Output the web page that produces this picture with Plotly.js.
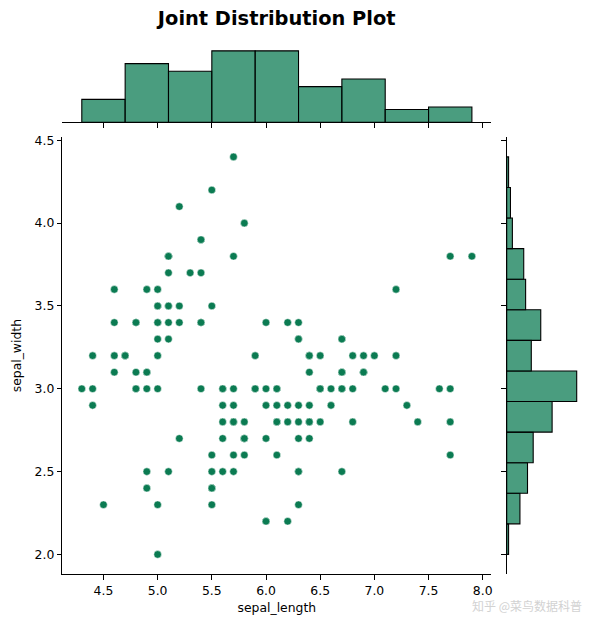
<!DOCTYPE html>
<html>
<head>
<meta charset="utf-8">
<script src="https://cdn.plot.ly/plotly-3.0.1.min.js"></script>
<style>html,body{margin:0;padding:0;background:#fff;}#chart{width:589px;height:627px;}</style>
</head>
<body>
<div id="chart"></div>
<script>
// Iris (seaborn) sepal measurements
const sepalLength = [
5.1,4.9,4.7,4.6,5.0,5.4,4.6,5.0,4.4,4.9,5.4,4.8,4.8,4.3,5.8,5.7,5.4,5.1,5.7,5.1,
5.4,5.1,4.6,5.1,4.8,5.0,5.0,5.2,5.2,4.7,4.8,5.4,5.2,5.5,4.9,5.0,5.5,4.9,4.4,5.1,
5.0,4.5,4.4,5.0,5.1,4.8,5.1,4.6,5.3,5.0,
7.0,6.4,6.9,5.5,6.5,5.7,6.3,4.9,6.6,5.2,5.0,5.9,6.0,6.1,5.6,6.7,5.6,5.8,6.2,5.6,
5.9,6.1,6.3,6.1,6.4,6.6,6.8,6.7,6.0,5.7,5.5,5.5,5.8,6.0,5.4,6.0,6.7,6.3,5.6,5.5,
5.5,6.1,5.8,5.0,5.6,5.7,5.7,6.2,5.1,5.7,
6.3,5.8,7.1,6.3,6.5,7.6,4.9,7.3,6.7,7.2,6.5,6.4,6.8,5.7,5.8,6.4,6.5,7.7,7.7,6.0,
6.9,5.6,7.7,6.3,6.7,7.2,6.2,6.1,6.4,7.2,7.4,7.9,6.4,6.3,6.1,7.7,6.3,6.4,6.0,6.9,
6.7,6.9,5.8,6.8,6.7,6.7,6.3,6.5,6.2,5.9];
const sepalWidth = [
3.5,3.0,3.2,3.1,3.6,3.9,3.4,3.4,2.9,3.1,3.7,3.4,3.0,3.0,4.0,4.4,3.9,3.5,3.8,3.8,
3.4,3.7,3.6,3.3,3.4,3.0,3.4,3.5,3.4,3.2,3.1,3.4,4.1,4.2,3.1,3.2,3.5,3.6,3.0,3.4,
3.5,2.3,3.2,3.5,3.8,3.0,3.8,3.2,3.7,3.3,
3.2,3.2,3.1,2.3,2.8,2.8,3.3,2.4,2.9,2.7,2.0,3.0,2.2,2.9,2.9,3.1,3.0,2.7,2.2,2.5,
3.2,2.8,2.5,2.8,2.9,3.0,2.8,3.0,2.9,2.6,2.4,2.4,2.7,2.7,3.0,3.4,3.1,2.3,3.0,2.5,
2.6,3.0,2.6,2.3,2.7,3.0,2.9,2.9,2.5,2.8,
3.3,2.7,3.0,2.9,3.0,3.0,2.5,2.9,2.5,3.6,3.2,2.7,3.0,2.5,2.8,3.2,3.0,3.8,2.6,2.2,
3.2,2.8,2.8,2.7,3.3,3.2,2.8,3.0,2.8,3.0,2.8,3.8,2.8,2.8,2.6,3.0,3.4,3.1,3.0,3.1,
3.1,3.1,2.7,3.2,3.3,3.0,2.5,3.0,3.4,3.0];

// Marginal histograms (bin edges and counts)
const lengthEdges = [4.3,4.7,5.1,5.5,5.9,6.3,6.7,7.1,7.5,7.9];
const lengthCounts = [9,23,20,28,28,14,17,5,6];
const widthEdges = [2.0,2.1846,2.3692,2.5538,2.7385,2.9231,3.1077,3.2923,3.4769,3.6615,3.8462,4.0308,4.2154,4.4];
const widthCounts = [1,7,11,14,24,37,13,18,10,9,3,2,1];

const xTicks = [4.5,5.0,5.5,6.0,6.5,7.0,7.5,8.0];
const yTicks = [2.0,2.5,3.0,3.5,4.0,4.5];

const mid = e => e.slice(0,-1).map((v,i)=>(v+e[i+1])/2);
const wid = e => e.slice(0,-1).map((v,i)=>e[i+1]-v);

const dotColor = '#0b7b52';
const barColor = 'rgba(11,123,82,0.74)';
const F = 'DejaVu Sans, Liberation Sans, sans-serif';

const traces = [
  {type:'scatter', mode:'markers', x:sepalLength, y:sepalWidth, xaxis:'x', yaxis:'y',
   marker:{color:dotColor, size:7.6, line:{color:'#ffffff', width:0.5}}, hoverinfo:'x+y'},
  {type:'bar', x:mid(lengthEdges), y:lengthCounts, width:wid(lengthEdges), xaxis:'x2', yaxis:'y2',
   marker:{color:barColor, line:{color:'#000', width:1.1}}},
  {type:'bar', orientation:'h', y:mid(widthEdges), x:widthCounts, width:wid(widthEdges), xaxis:'x3', yaxis:'y3',
   marker:{color:barColor, line:{color:'#000', width:1.1}}}
];

const xd = [62.3/589, 491.4/589];
const yd = [(627-574.3)/627, (627-137)/627];
const common = {showgrid:false, zeroline:false, showline:true, linecolor:'#000', linewidth:1,
  ticks:'outside', ticklen:4.5, tickwidth:1, tickcolor:'#000', tickfont:{family:F, size:12.4, color:'#000'}};

const layout = {
  width:589, height:627, margin:{l:0,r:0,t:0,b:0}, showlegend:false,
  paper_bgcolor:'#fff', plot_bgcolor:'rgba(0,0,0,0)', bargap:0,
  title:{text:'<b>Joint Distribution Plot</b>', x:276.7/589, xref:'paper', xanchor:'center',
         y:1-18/627, yref:'container', yanchor:'middle', font:{family:F, size:19.4, color:'#000'}},
  xaxis:Object.assign({}, common, {domain:xd, range:[4.12,8.08], tickvals:xTicks, tickformat:'.1f', anchor:'y',
         title:{text:'sepal_length', font:{family:F, size:12.4, color:'#000'}, standoff:6}}),
  yaxis:Object.assign({}, common, {domain:yd, range:[1.88,4.52], tickvals:yTicks, tickformat:'.1f', anchor:'x',
         title:{text:'sepal_width', font:{family:F, size:12.4, color:'#000'}, standoff:10}}),
  xaxis2:Object.assign({}, common, {domain:xd, range:[4.12,8.08], tickvals:xTicks, showticklabels:false, anchor:'y2'}),
  yaxis2:{domain:[(627-122.3)/627,(627-47.3)/627], range:[0,29.4], visible:false, anchor:'x2', fixedrange:true},
  xaxis3:{domain:[506.7/589, 580.2/589], range:[0,38.85], visible:false, anchor:'y3'},
  yaxis3:Object.assign({}, common, {domain:yd, range:[1.88,4.52], tickvals:yTicks, showticklabels:false, anchor:'x3'}),
  annotations:[{text:'知乎 @菜鸟数据科普', xref:'paper', yref:'paper', x:527/589, y:1-605/627,
    xanchor:'center', yanchor:'middle', showarrow:false,
    font:{family:'Noto Sans CJK SC, sans-serif', size:12, color:'#d2d2d2'}}]
};

Plotly.newPlot('chart', traces, layout, {displayModeBar:false, staticPlot:true});
</script>
</body>
</html>
